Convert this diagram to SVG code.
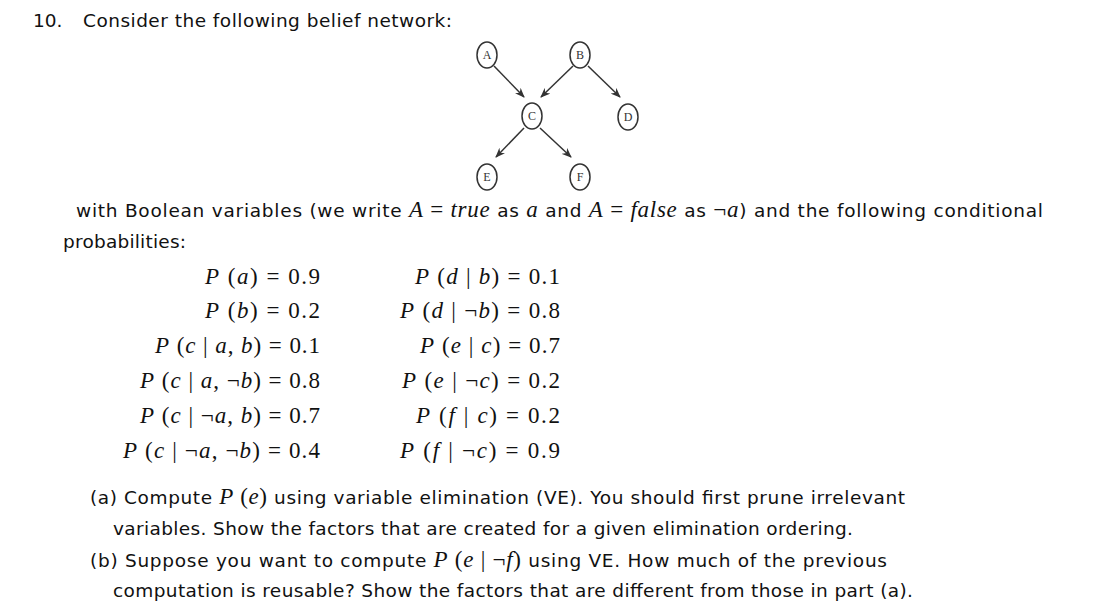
<svg xmlns="http://www.w3.org/2000/svg" width="1118" height="615" viewBox="0 0 1118 615">
<style>
.t{font-family:"DejaVu Sans",sans-serif;font-size:18.5px;fill:#111}
.m{font-family:"Liberation Serif",serif;font-size:23px;fill:#111}
.i{font-style:italic}
.n{fill:#fff;stroke:#333;stroke-width:1.5}
.nl{font-family:"Liberation Serif",serif;font-size:12px;fill:#333;text-anchor:middle}
.e{stroke:#333;stroke-width:1.5;marker-end:url(#ar)}
</style>
<defs><marker id="ar" markerWidth="10" markerHeight="8" refX="9" refY="4" orient="auto" markerUnits="userSpaceOnUse"><path d="M0,0L10,4L0,8L3,4z" fill="#333"/></marker></defs>
<rect width="1118" height="615" fill="#fff"/>
<text class="t" x="33" y="27">10.</text>
<text class="t" x="83" y="27" textLength="369" lengthAdjust="spacing">Consider the following belief network:</text>
<g id="connectors">
<line class="e" x1="494" y1="66" x2="524" y2="97"/>
<line class="e" x1="573" y1="66" x2="541" y2="97"/>
<line class="e" x1="588" y1="66" x2="620" y2="97"/>
<line class="e" x1="524" y1="128" x2="496" y2="157"/>
<line class="e" x1="540" y1="128" x2="571" y2="157"/>
</g>
<g id="A"><ellipse class="n" cx="487" cy="55" rx="10" ry="13"/><text class="nl" x="487" y="59">A</text></g>
<g id="B"><ellipse class="n" cx="580" cy="55" rx="10" ry="13"/><text class="nl" x="580" y="59">B</text></g>
<g id="C"><ellipse class="n" cx="532" cy="116" rx="10" ry="13"/><text class="nl" x="532" y="120">C</text></g>
<g id="D"><ellipse class="n" cx="628" cy="117" rx="10" ry="13"/><text class="nl" x="628" y="121">D</text></g>
<g id="E"><ellipse class="n" cx="487" cy="177" rx="10" ry="13"/><text class="nl" x="487" y="181">E</text></g>
<g id="F"><ellipse class="n" cx="580" cy="177" rx="10" ry="13"/><text class="nl" x="580" y="181">F</text></g>
<text class="t" x="76" y="217" textLength="967" lengthAdjust="spacing">with Boolean variables (we write <tspan class="m i">A</tspan><tspan class="m"> = </tspan><tspan class="m i">true</tspan> as <tspan class="m i">a</tspan> and <tspan class="m i">A</tspan><tspan class="m"> = </tspan><tspan class="m i">false</tspan> as <tspan class="m">¬</tspan><tspan class="m i">a</tspan>) and the following conditional</text>
<text class="t" x="63" y="248" textLength="123" lengthAdjust="spacing">probabilities:</text>
<g text-anchor="end">
<text class="m" x="320" y="284" textLength="115"><tspan class="i">P</tspan> (<tspan class="i">a</tspan>) = 0.9</text>
<text class="m" x="320" y="318" textLength="115"><tspan class="i">P</tspan> (<tspan class="i">b</tspan>) = 0.2</text>
<text class="m" x="320" y="353" textLength="165"><tspan class="i">P</tspan> (<tspan class="i">c</tspan> | <tspan class="i">a</tspan>, <tspan class="i">b</tspan>) = 0.1</text>
<text class="m" x="320" y="388" textLength="180"><tspan class="i">P</tspan> (<tspan class="i">c</tspan> | <tspan class="i">a</tspan>, ¬<tspan class="i">b</tspan>) = 0.8</text>
<text class="m" x="320" y="423" textLength="180"><tspan class="i">P</tspan> (<tspan class="i">c</tspan> | ¬<tspan class="i">a</tspan>, <tspan class="i">b</tspan>) = 0.7</text>
<text class="m" x="320" y="458" textLength="197"><tspan class="i">P</tspan> (<tspan class="i">c</tspan> | ¬<tspan class="i">a</tspan>, ¬<tspan class="i">b</tspan>) = 0.4</text>
<text class="m" x="560" y="284" textLength="145"><tspan class="i">P</tspan> (<tspan class="i">d</tspan> | <tspan class="i">b</tspan>) = 0.1</text>
<text class="m" x="560" y="318" textLength="160"><tspan class="i">P</tspan> (<tspan class="i">d</tspan> | ¬<tspan class="i">b</tspan>) = 0.8</text>
<text class="m" x="560" y="353" textLength="140"><tspan class="i">P</tspan> (<tspan class="i">e</tspan> | <tspan class="i">c</tspan>) = 0.7</text>
<text class="m" x="560" y="388" textLength="158"><tspan class="i">P</tspan> (<tspan class="i">e</tspan> | ¬<tspan class="i">c</tspan>) = 0.2</text>
<text class="m" x="560" y="423" textLength="144"><tspan class="i">P</tspan> (<tspan class="i">f</tspan> | <tspan class="i">c</tspan>) = 0.2</text>
<text class="m" x="560" y="458" textLength="160"><tspan class="i">P</tspan> (<tspan class="i">f</tspan> | ¬<tspan class="i">c</tspan>) = 0.9</text>
</g>
<text class="t" x="90" y="504" textLength="815" lengthAdjust="spacing">(a)  Compute <tspan class="m i">P</tspan><tspan class="m"> (</tspan><tspan class="m i">e</tspan><tspan class="m">)</tspan> using variable elimination (VE). You should first prune irrelevant</text>
<text class="t" x="113" y="535" textLength="740" lengthAdjust="spacing">variables. Show the factors that are created for a given elimination ordering.</text>
<text class="t" x="90" y="567" textLength="797" lengthAdjust="spacing">(b)  Suppose you want to compute <tspan class="m i">P</tspan><tspan class="m"> (</tspan><tspan class="m i">e</tspan><tspan class="m"> | ¬</tspan><tspan class="m i">f</tspan><tspan class="m">)</tspan> using VE. How much of the previous</text>
<text class="t" x="113" y="597" textLength="800" lengthAdjust="spacing">computation is reusable? Show the factors that are different from those in part (a).</text>
</svg>
